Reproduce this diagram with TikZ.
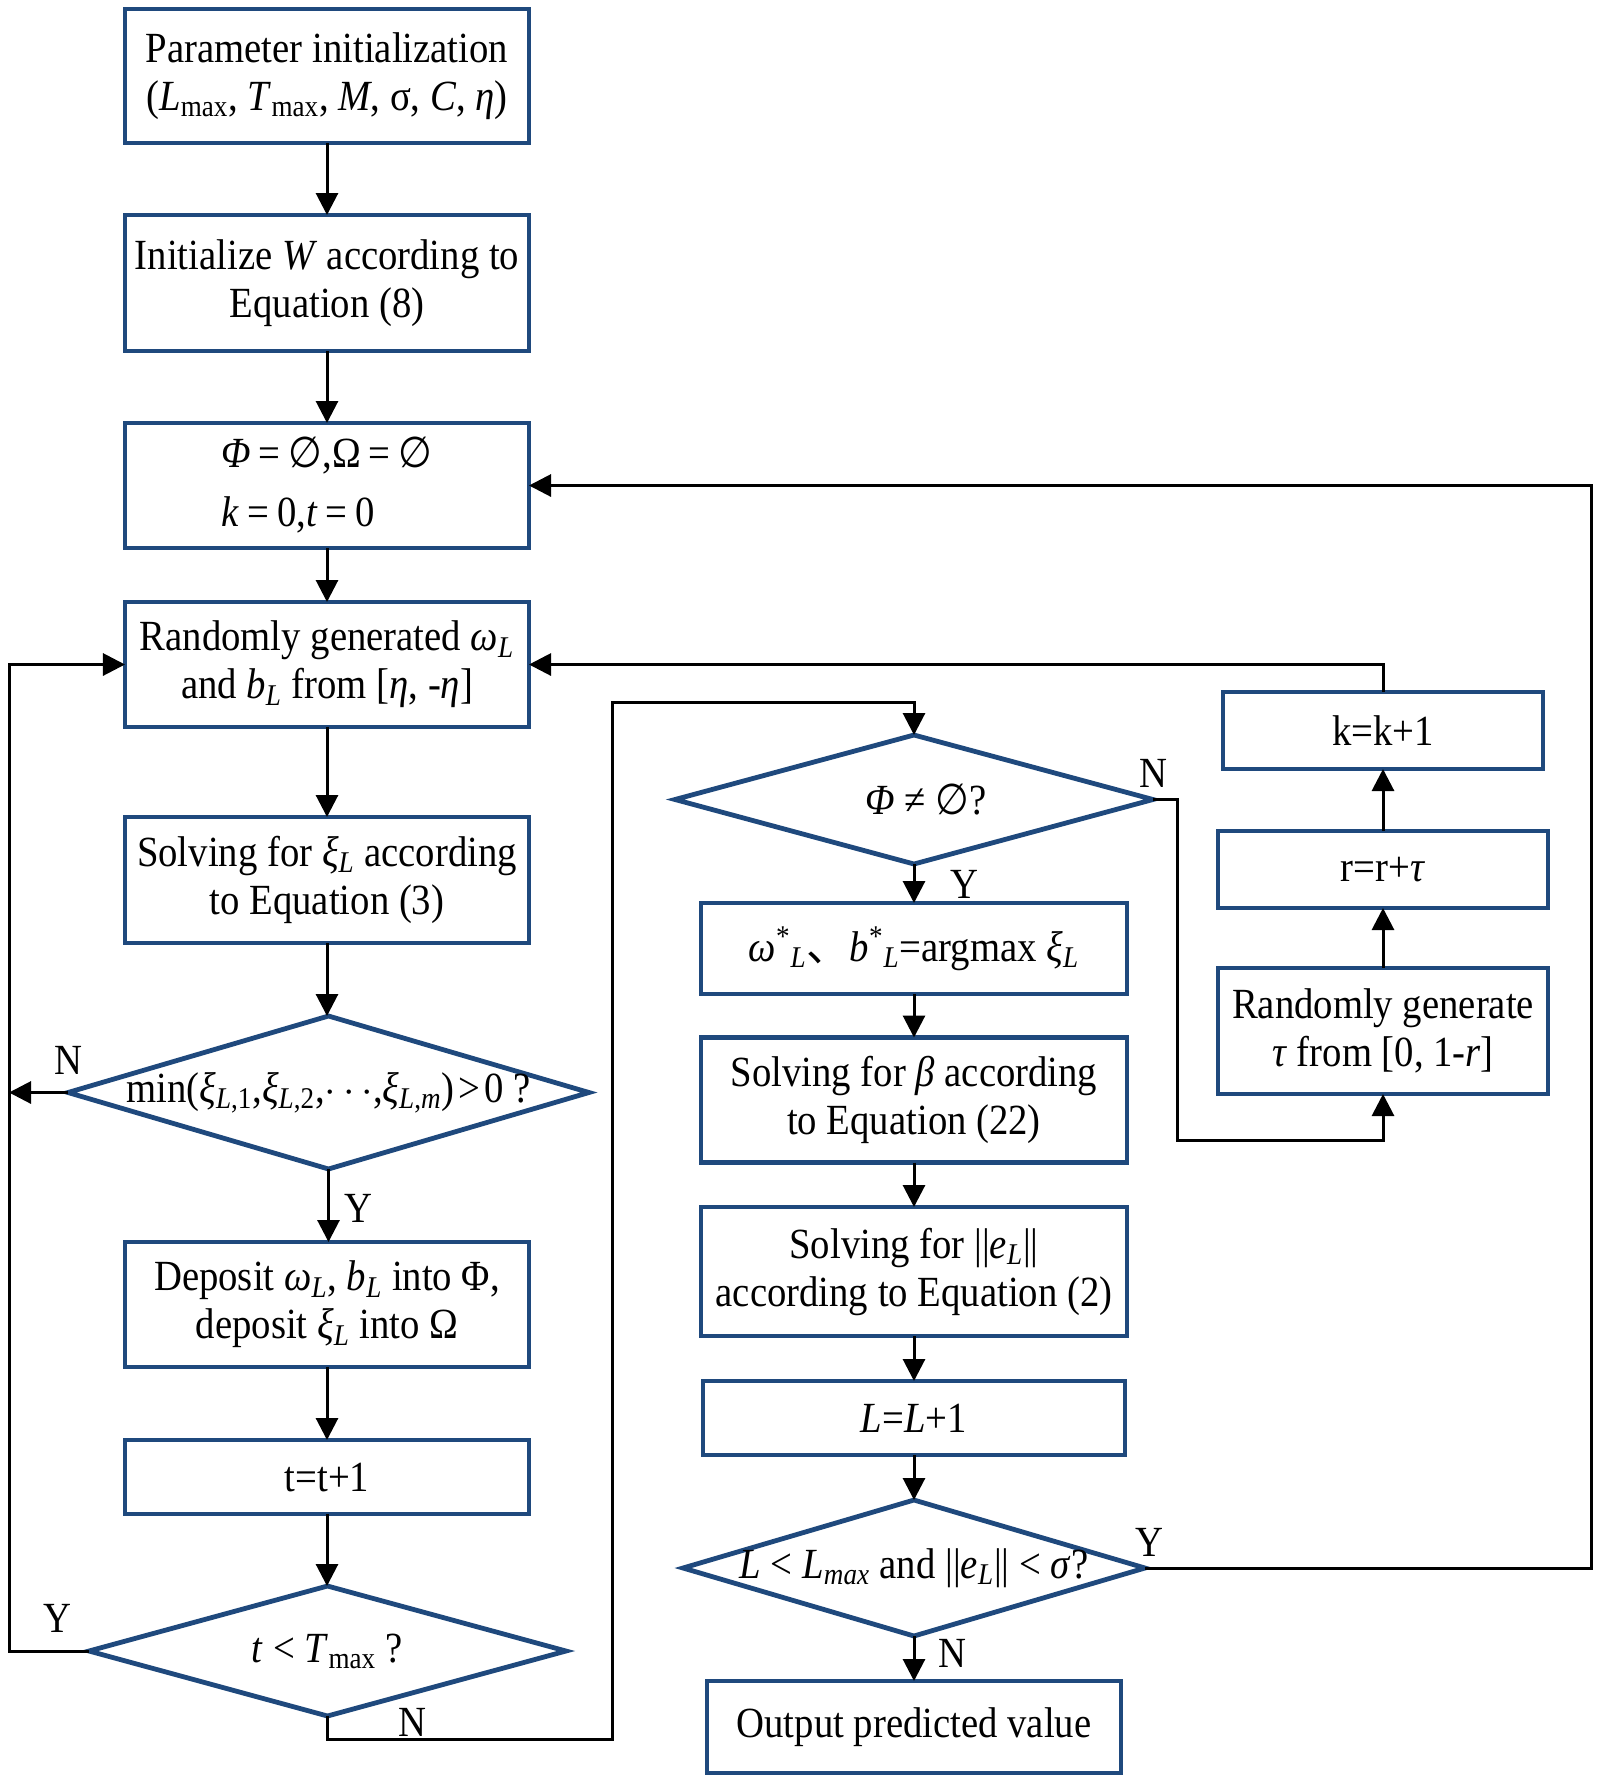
\documentclass[tikz,border=0pt]{standalone}
\usepackage{fontspec}
\setmainfont{Liberation Serif}[FakeStretch=0.9]
\newfontfamily\djv{DejaVu Sans}[FakeStretch=0.9]
\newfontfamily\cjk{Noto Sans CJK SC}
\usetikzlibrary{arrows.meta,shapes.geometric}
\definecolor{boxblue}{RGB}{31,73,125}
\newcommand\mi[1]{\textit{#1}}
\newcommand\eset{{\djv ∅}}
\newcommand\eqs{\hspace{4bp}=\hspace{4bp}}
\tikzset{
  every node/.style={font=\fontsize{21.5bp}{24bp}\selectfont},
  box/.style 2 args={draw=boxblue, line width=2.4bp, rectangle, outer sep=0pt, inner sep=2bp, align=center, minimum width=#1, minimum height=#2},
  dia/.style 2 args={draw=boxblue, line width=2.4bp, diamond, outer sep=0pt, inner sep=0pt, minimum width=#1, minimum height=#2},
  conn/.style={draw=black, line width=1.5bp, -{Triangle[length=11bp,width=11bp]}},
  lab/.style={inner sep=0pt}
}
\begin{document}
\begin{tikzpicture}[x=0.5bp,y=-0.5bp]
\useasboundingbox (0,0) rectangle (1600,1782);
% left column
\node[box={202bp}{67bp}] (b1) at (327,76) {Parameter initialization\\(\mi{L}\textsubscript{max}, \mi{T}\textsubscript{max}, \mi{M}, σ, \mi{C}, \mi{η})};
\node[box={202bp}{68bp}] (b2) at (327,283) {Initialize \mi{W} according to\\Equation (8)};
\node[box={202bp}{62.5bp}, align=left] (b3) at (327,485.5) {\mi{Φ}\eqs\eset,Ω\eqs\eset\\[5.5bp]\mi{k}\eqs 0,\mi{t}\eqs 0};
\node[box={202bp}{62.5bp}] (b4) at (327,664.5) {Randomly generated \mi{ω}\textsubscript{\mi{L}}\\and \mi{b}\textsubscript{\mi{L}} from [\mi{η}, -\mi{η}]};
\node[box={202bp}{63bp}] (b5) at (327,880) {Solving for \mi{ξ}\textsubscript{\mi{L}} according\\to Equation (3)};
\node[dia={260.5bp}{76.5bp}] (d1) at (328.5,1092.5) {};
\node[lab] (d1t) at (d1.center) {min(\mi{ξ}\textsubscript{\mi{L},1},\mi{ξ}\textsubscript{\mi{L},2},$\cdots$,\mi{ξ}\textsubscript{\mi{L},\mi{m}})\hspace{2bp}>\hspace{2bp}0 ?};
\node[box={202bp}{62.5bp}] (b6) at (327,1304.5) {Deposit \mi{ω}\textsubscript{\mi{L}}, \mi{b}\textsubscript{\mi{L}} into Φ,\\deposit \mi{ξ}\textsubscript{\mi{L}} into Ω};
\node[box={202bp}{37bp}] (b7) at (327,1477) {t=t+1};
\node[dia={238.5bp}{65bp}] (d2) at (327.5,1651) {};
\node[lab] (d2t) at (d2.center) {\mi{t} < \mi{T}\textsubscript{max} ?};
% middle column
\node[dia={239bp}{64.5bp}] (d3) at (914,799.5) {};
\node[lab] (d3t) at ([xshift=6bp]d3.center) {\mi{Φ} ≠ \eset?};
\node[box={213bp}{45.5bp}] (b8) at (914,948.5) {\mi{ω}\textsuperscript{*}\textsubscript{\mi{L}}{\cjk 、}\mi{b}\textsuperscript{*}\textsubscript{\mi{L}}=argmax \mi{ξ}\textsubscript{\mi{L}}};
\node[box={213bp}{62.5bp}] (b9) at (914,1100) {Solving for \mi{β} according\\to Equation (22)};
\node[box={213bp}{64.5bp}] (b10) at (914,1271.5) {Solving for ||\mi{e}\textsubscript{\mi{L}}||\\according to Equation (2)};
\node[box={211bp}{37bp}] (b11) at (914,1418) {\mi{L}=\mi{L}+1};
\node[dia={231bp}{68bp}] (d4) at (914,1568) {};
\node[lab] (d4t) at (d4.center) {\mi{L} < \mi{L}\textsubscript{\mi{max}} and ||\mi{e}\textsubscript{\mi{L}}|| < \mi{σ}?};
\node[box={207bp}{46bp}] (b12) at (914,1727) {Output predicted value};
% right column
\node[box={160bp}{38.5bp}] (kk) at (1383,730.5) {k=k+1};
\node[box={165bp}{38.5bp}] (rr) at (1383,869.5) {r=r+\mi{τ}};
\node[box={165bp}{63bp}] (rg) at (1383,1031) {Randomly generate\\\mi{τ} from [0, 1-\mi{r}]};
% coordinates
\coordinate (lx) at (9,1651);
\coordinate (c1) at (612,1739);
\coordinate (c2) at (612,702);
\coordinate (c3) at (1177,799.5);
\coordinate (c4) at (1177,1140);
\coordinate (c5) at (1591,1568);
% connectors
\draw[conn] (b1) -- (b2);
\draw[conn] (b2) -- (b3);
\draw[conn] (b3) -- (b4);
\draw[conn] (b4) -- (b5);
\draw[conn] (b5.south) -- (b5.south |- d1.north);
\draw[conn] (d1.south) -- (d1.south |- b6.north);
\draw[conn] (b6) -- (b7);
\draw[conn] (b7.south) -- (b7.south |- d2.north);
\draw[conn] (d2.west) -- (lx) |- (b4.west);
\draw[conn] (d1.west) -- (d1.west -| lx);
\draw[conn] (d2.south) |- (c1) -- (c2) -| (d3.north);
\draw[conn] (d3.south) -- (b8.north);
\draw[conn] (b8) -- (b9);
\draw[conn] (b9) -- (b10);
\draw[conn] (b10) -- (b11);
\draw[conn] (b11.south) -- (d4.north);
\draw[conn] (d4.south) -- (b12.north);
\draw[conn] (d3.east) -- (c3) -- (c4) -| (rg.south);
\draw[conn] (rg) -- (rr);
\draw[conn] (rr) -- (kk);
\draw[conn] (kk.north) |- (b4.east);
\draw[conn] (d4.east) -- (c5) |- (b3.east);
% labels
\node[lab] (n1) at (68,1060) {N};
\node[lab] (y1) at (358,1208) {Y};
\node[lab] (y2) at (57,1618) {Y};
\node[lab] (n2) at (412,1722) {N};
\node[lab] (n3) at (1153,773) {N};
\node[lab] (y3) at (964,884) {Y};
\node[lab] (y4) at (1149,1542) {Y};
\node[lab] (n4) at (952,1653) {N};
\end{tikzpicture}
\end{document}
